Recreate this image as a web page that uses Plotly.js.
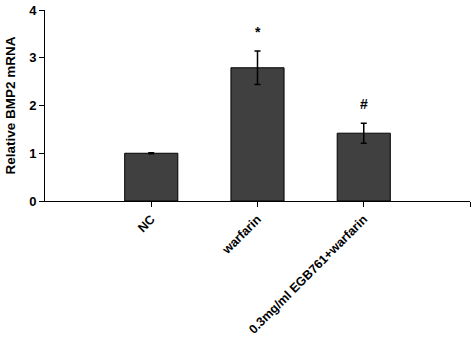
<!DOCTYPE html>
<html><head><meta charset="utf-8">
<script src="https://cdn.plot.ly/plotly-3.0.1.min.js"></script>
<style>html,body{margin:0;padding:0;background:#fff}#chart{width:474px;height:340px}</style>
</head><body><div id="chart"></div>
<script>
var categories = ["NC", "warfarin", "0.3mg/ml EGB761+warfarin"];
var values = [1.0, 2.79, 1.42];
var errors = [0.01, 0.35, 0.21];
var marks = ["", "*", "#"];
var yTicks = [0, 1, 2, 3, 4];

var font = {family: "Liberation Sans, Arial, sans-serif", color: "#000"};

var trace = {
  type: "bar", x: categories, y: values, width: 0.5,
  marker: {color: "#404040", line: {color: "#000", width: 1}},
  error_y: {type: "data", array: errors, visible: true, color: "#000", thickness: 1.5, width: 3},
  hoverinfo: "none"
};
var endTick = {type: "scatter", x: [3], y: [0], xaxis: "x2", mode: "none", showlegend: false, hoverinfo: "none"};

var annotations = [];
for (var i = 0; i < categories.length; i++) {
  if (!marks[i]) continue;
  annotations.push({x: categories[i], y: values[i] + errors[i], text: "<b>" + marks[i] + "</b>",
    showarrow: false, yanchor: "bottom", yshift: 9, font: Object.assign({size: 14}, font)});
}

var layout = {
  width: 474, height: 340,
  margin: {l: 45, r: 4, t: 10, b: 139},
  paper_bgcolor: "#fff", plot_bgcolor: "#fff",
  showlegend: false, bargap: 0.5,
  font: font,
  xaxis: {
    type: "category", range: [-1, 3], showline: true, linecolor: "#000", linewidth: 1,
    ticks: "outside", ticklen: 5, tickcolor: "#000", tickwidth: 1, tickangle: -45,
    showgrid: false, zeroline: false, tickfont: Object.assign({size: 12.5, weight: "bold"}, font),
    fixedrange: true
  },
  xaxis2: {
    overlaying: "x", range: [-1, 3], tickmode: "array", tickvals: [3], ticktext: [""],
    ticks: "outside", ticklen: 5, tickcolor: "#000", showline: false, showgrid: false,
    zeroline: false, side: "bottom", anchor: "y"
  },
  yaxis: {
    range: [0, 4], tickmode: "array", tickvals: yTicks, showline: true, linecolor: "#000", linewidth: 1,
    ticks: "outside", ticklen: 5, tickcolor: "#000", showgrid: false, zeroline: false,
    tickfont: Object.assign({size: 13, weight: "bold"}, font),
    title: {text: "<b>Relative BMP2 mRNA</b>", font: Object.assign({size: 13.5}, font), standoff: 10},
    fixedrange: true
  },
  annotations: annotations
};
Plotly.newPlot("chart", [trace, endTick], layout, {displayModeBar: false, staticPlot: true});
</script></body></html>
